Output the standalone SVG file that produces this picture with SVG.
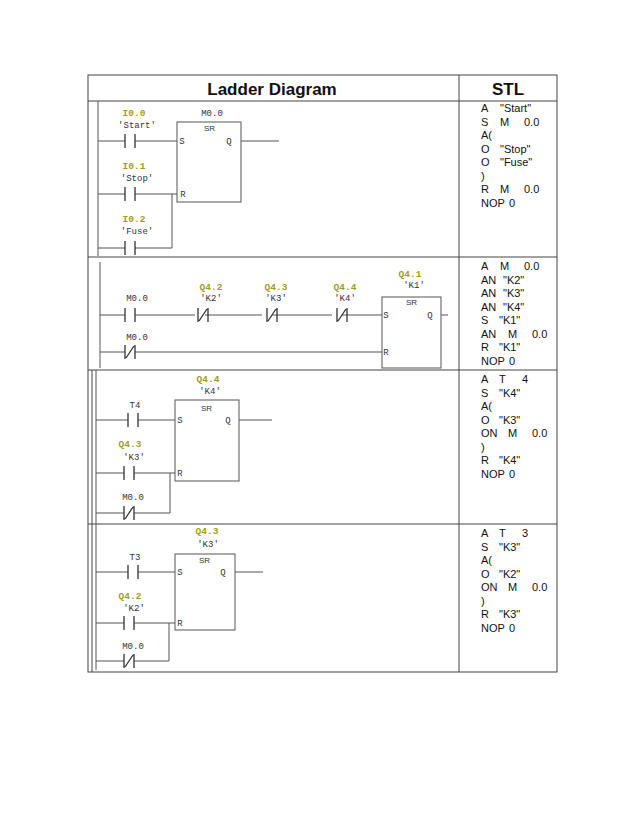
<svg xmlns="http://www.w3.org/2000/svg" width="638" height="826" viewBox="0 0 638 826">
<style>
.b{stroke:#444;stroke-width:1;fill:none}
.w{stroke:#555;stroke-width:1;fill:none}
.bx{stroke:#555;stroke-width:1;fill:#fff}
.c{stroke:#333;stroke-width:1.3;fill:none}
.m{font-family:"Liberation Mono",monospace;font-size:9px;fill:#333;text-anchor:middle}
.a{font-family:"Liberation Mono",monospace;font-size:9.5px;font-weight:bold;fill:#a59c1e;text-anchor:middle}
.p{font-family:"Liberation Sans",sans-serif;font-size:8px;fill:#333}
.s{font-family:"Liberation Sans",sans-serif;font-size:11px;fill:#111}
.h{font-family:"Liberation Sans",sans-serif;font-size:17px;font-weight:bold;fill:#111;text-anchor:middle}
</style>
<defs>
<g id="no"><path class="c" d="M-5,-7V7M5,-7V7"/></g>
<g id="nc"><path class="c" d="M-5,-7V7M5,-7V7M-4,6L4,-6"/></g>
</defs>
<rect width="638" height="826" fill="#fff"/>
<g id="table" class="b">
<rect x="88" y="75" width="469" height="597"/>
<line x1="459" y1="75" x2="459" y2="672"/>
<line x1="88" y1="101" x2="557" y2="101"/>
<line x1="88" y1="257" x2="557" y2="257"/>
<line x1="88" y1="370" x2="557" y2="370"/>
<line x1="88" y1="524" x2="557" y2="524"/>
<line x1="92" y1="370" x2="92" y2="672"/>
</g>
<text class="h" x="272" y="95">Ladder Diagram</text>
<text class="h" x="508" y="95">STL</text>

<g id="connectors" class="w">
<line x1="98" y1="101" x2="98" y2="256"/>
<path d="M98,141H125M135,141H177M241,141H279"/>
<path d="M98,194H125M135,194H177M98,248H125M135,248H172V194"/>
<line x1="100" y1="262" x2="100" y2="368"/>
<path d="M100,315H125M135,315H195M205,315H262M272,315H332M342,315H382M441,315H448"/>
<path d="M100,352H125M135,352H382"/>
<line x1="96" y1="370" x2="96" y2="524"/>
<path d="M96,420H128M138,420H175M239,420H272"/>
<path d="M96,473H124M134,473H175M96,513H124M134,513H170V473"/>
<line x1="96" y1="524" x2="96" y2="670"/>
<path d="M96,572H128M138,572H175M235,572H263"/>
<path d="M96,623H124M134,623H175M96,661H124M134,661H169V623"/>
</g>

<g id="rung1">
<use href="#no" x="130" y="141"/><use href="#no" x="130" y="194"/><use href="#no" x="130" y="248"/>
<text class="a" x="134" y="116">I0.0</text><text class="m" x="137" y="128">'Start'</text>
<text class="a" x="134" y="169">I0.1</text><text class="m" x="137" y="181">'Stop'</text>
<text class="a" x="134" y="222">I0.2</text><text class="m" x="137" y="234">'Fuse'</text>
<text class="m" x="212" y="116">M0.0</text>
<rect class="bx" x="177" y="122" width="64" height="80"/>
<text class="p" x="204" y="131">SR</text>
<text class="m" x="182" y="144">S</text><text class="m" x="229" y="144">Q</text><text class="m" x="183" y="197">R</text>
</g>

<g id="rung2">
<use href="#no" x="130" y="315"/><use href="#nc" x="203" y="315"/><use href="#nc" x="272" y="315"/><use href="#nc" x="342" y="315"/><use href="#nc" x="130" y="352"/>
<text class="m" x="137" y="301">M0.0</text>
<text class="a" x="211" y="290">Q4.2</text><text class="m" x="211" y="301">'K2'</text>
<text class="a" x="276" y="290">Q4.3</text><text class="m" x="276" y="301">'K3'</text>
<text class="a" x="345" y="290">Q4.4</text><text class="m" x="345" y="301">'K4'</text>
<text class="a" x="410" y="277">Q4.1</text><text class="m" x="414" y="288">'K1'</text>
<text class="m" x="137" y="340">M0.0</text>
<rect class="bx" x="382" y="297" width="59" height="71"/>
<text class="p" x="406" y="305">SR</text>
<text class="m" x="386" y="318">S</text><text class="m" x="430" y="318">Q</text><text class="m" x="386" y="355">R</text>
</g>

<g id="rung3">
<use href="#no" x="133" y="420"/><use href="#no" x="129" y="473"/><use href="#nc" x="129" y="513"/>
<text class="a" x="208" y="382">Q4.4</text><text class="m" x="210" y="394">'K4'</text>
<text class="m" x="135" y="408">T4</text>
<text class="a" x="130" y="447">Q4.3</text><text class="m" x="134" y="460">'K3'</text>
<text class="m" x="133" y="500">M0.0</text>
<rect class="bx" x="175" y="400" width="64" height="81"/>
<text class="p" x="201" y="411">SR</text>
<text class="m" x="180" y="423">S</text><text class="m" x="228" y="423">Q</text><text class="m" x="180" y="476">R</text>
</g>

<g id="rung4">
<use href="#no" x="133" y="572"/><use href="#no" x="129" y="623"/><use href="#nc" x="129" y="661"/>
<text class="a" x="207" y="534">Q4.3</text><text class="m" x="208" y="547">'K3'</text>
<text class="m" x="135" y="560">T3</text>
<text class="a" x="130" y="599">Q4.2</text><text class="m" x="134" y="611">'K2'</text>
<text class="m" x="133" y="649">M0.0</text>
<rect class="bx" x="175" y="554" width="60" height="76"/>
<text class="p" x="199" y="563">SR</text>
<text class="m" x="180" y="575">S</text><text class="m" x="223" y="575">Q</text><text class="m" x="180" y="626">R</text>
</g>

<g id="stl" class="s">
<text x="481" y="112">A</text><text x="500" y="112">"Start"</text>
<text x="481" y="126">S</text><text x="500" y="126">M</text><text x="524" y="126">0.0</text>
<text x="481" y="139">A(</text>
<text x="481" y="153">O</text><text x="500" y="153">"Stop"</text>
<text x="481" y="166">O</text><text x="500" y="166">"Fuse"</text>
<text x="481" y="180">)</text>
<text x="481" y="193">R</text><text x="500" y="193">M</text><text x="524" y="193">0.0</text>
<text x="481" y="207">NOP</text><text x="509" y="207">0</text>

<text x="481" y="270">A</text><text x="500" y="270">M</text><text x="524" y="270">0.0</text>
<text x="481" y="284">AN</text><text x="503" y="284">"K2"</text>
<text x="481" y="297">AN</text><text x="503" y="297">"K3"</text>
<text x="481" y="311">AN</text><text x="503" y="311">"K4"</text>
<text x="481" y="324">S</text><text x="499" y="324">"K1"</text>
<text x="481" y="338">AN</text><text x="508" y="338">M</text><text x="532" y="338">0.0</text>
<text x="481" y="351">R</text><text x="499" y="351">"K1"</text>
<text x="481" y="365">NOP</text><text x="509" y="365">0</text>

<text x="481" y="383">A</text><text x="499" y="383">T</text><text x="522" y="383">4</text>
<text x="481" y="397">S</text><text x="499" y="397">"K4"</text>
<text x="481" y="410">A(</text>
<text x="481" y="424">O</text><text x="499" y="424">"K3"</text>
<text x="481" y="437">ON</text><text x="508" y="437">M</text><text x="532" y="437">0.0</text>
<text x="481" y="451">)</text>
<text x="481" y="464">R</text><text x="499" y="464">"K4"</text>
<text x="481" y="478">NOP</text><text x="509" y="478">0</text>

<text x="481" y="537">A</text><text x="499" y="537">T</text><text x="522" y="537">3</text>
<text x="481" y="551">S</text><text x="499" y="551">"K3"</text>
<text x="481" y="564">A(</text>
<text x="481" y="578">O</text><text x="499" y="578">"K2"</text>
<text x="481" y="591">ON</text><text x="508" y="591">M</text><text x="532" y="591">0.0</text>
<text x="481" y="605">)</text>
<text x="481" y="618">R</text><text x="499" y="618">"K3"</text>
<text x="481" y="632">NOP</text><text x="509" y="632">0</text>
</g>
</svg>
